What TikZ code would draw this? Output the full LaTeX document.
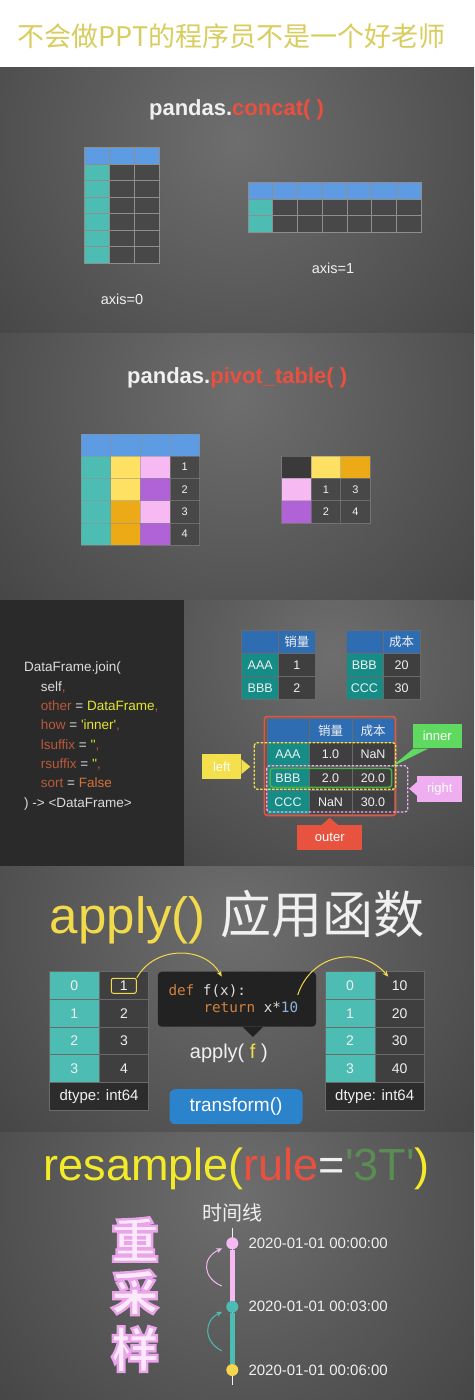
\documentclass[tikz,border=0pt]{standalone}
\usepackage{fontspec}
\setmainfont{Liberation Sans}
\newfontfamily\cjk{Noto Sans CJK SC}
\newfontfamily\codemono{DejaVu Sans Mono}
\definecolor{titlegold}{HTML}{D8CD5E}
\definecolor{bgdark}{HTML}{2C2C2C}
\definecolor{bglight}{HTML}{6E6E6E}
\definecolor{paneldark}{HTML}{2A2A2A}
\definecolor{headblue}{HTML}{5D9BE3}
\definecolor{rowteal}{HTML}{4DBDB3}
\definecolor{cellgrey}{HTML}{484848}
\definecolor{cornergrey}{HTML}{3A3A3A}
\definecolor{gridgrey}{HTML}{8E8E8E}
\definecolor{hotred}{HTML}{E9503F}
\definecolor{pivyellow}{HTML}{FEE062}
\definecolor{pivorange}{HTML}{ECAA17}
\definecolor{pivpink}{HTML}{F6B9F2}
\definecolor{pivpurple}{HTML}{AF63D6}
\definecolor{kwbrown}{HTML}{B9593B}
\definecolor{valyellow}{HTML}{E5E532}
\definecolor{falseorange}{HTML}{D2733A}
\definecolor{codewhite}{HTML}{DCDCDC}
\definecolor{joinblue}{HTML}{2F6DB3}
\definecolor{jointeal}{HTML}{168C86}
\definecolor{joingrey}{HTML}{3F3F3F}
\definecolor{joingrid}{HTML}{6A6A6A}
\definecolor{outerred}{HTML}{E8533F}
\definecolor{leftyellow}{HTML}{F4E04C}
\definecolor{rightpink}{HTML}{EEAEF0}
\definecolor{innergreen}{HTML}{5FD95F}
\definecolor{applyyellow}{HTML}{F2DA4B}
\definecolor{codebg}{HTML}{222222}
\definecolor{codeorange}{HTML}{D0813F}
\definecolor{codeblue}{HTML}{8DB3DC}
\definecolor{btnblue}{HTML}{2B83CB}
\definecolor{resyellow}{HTML}{F3EA28}
\definecolor{resgreen}{HTML}{5A8C53}
\definecolor{respink}{HTML}{E9A4EA}
\definecolor{reswhite}{HTML}{FCEAFC}
\definecolor{dotyellow}{HTML}{F6D64C}
\definecolor{textwhite}{HTML}{F0F0F0}
\usetikzlibrary{arrows.meta, positioning, calc}
\tikzstyle{gridln} = [draw=gridgrey, line width=0.6pt]
\tikzstyle{cell} = [rectangle, inner sep=0pt, text=textwhite]
\tikzstyle{curvearrow} = [-{Stealth[length=6pt, width=5pt]}, line width=1pt]
% pink stroke round the big characters
\newcommand{\pinkoutline}[1]{\special{pdf:literal direct 2 Tr 2.4 w 0.914 0.643 0.918 RG}#1\special{pdf:literal direct 0 Tr}}

\begin{document}
\begin{tikzpicture}[x=1pt, y=-1pt,
    headline/.style={font=\fontsize{22}{26}\selectfont\bfseries, text=textwhite},
    axlabel/.style={font=\fontsize{14.5}{17}\selectfont, text=textwhite},
    pnum/.style={font=\fontsize{11}{13}\selectfont, text=textwhite},
    codeline/.style={anchor=base west, inner sep=0pt, font=\fontsize{13.5}{16}\selectfont, text=codewhite},
    jcell/.style={cell, draw=joingrid, line width=0.5pt, minimum width=37pt, minimum height=23pt, font=\fontsize{12.5}{15}\selectfont},
    jhead/.style={jcell, fill=joinblue},
    jkey/.style={jcell, fill=jointeal},
    jval/.style={jcell, fill=joingrey},
    jwide/.style={minimum width=42.5pt, minimum height=24pt},
    callbox/.style={cell, minimum height=25pt, font=\fontsize{13}{15}\selectfont, text=white},
    scell/.style={cell, draw=joingrid, line width=0.6pt, minimum width=50pt, minimum height=27.7pt, font=\fontsize{14}{16}\selectfont},
    skey/.style={scell, fill=rowteal},
    sval/.style={scell, fill=joingrey},
    sfoot/.style={scell, fill=bgdark, minimum width=99.4pt, minimum height=28.4pt, font=\fontsize{15}{17}\selectfont},
    bigchar/.style={font=\cjk\bfseries\fontsize{48}{52}\selectfont, text=reswhite},
    tdot/.style={circle, inner sep=0pt, minimum size=12pt},
    timelbl/.style={anchor=west, inner sep=0pt, font=\fontsize{15}{17}\selectfont, text=textwhite}
  ]
  \useasboundingbox (0,0) rectangle (474,1400);

  % Banner
  \fill[white] (0,0) rectangle (474,67);
  \node[font=\cjk\fontsize{27}{30}\selectfont, text=titlegold] (banner) at (231.5,36) {不会做PPT的程序员不是一个好老师};

  % Panel 1: concat
  \begin{scope}
    \clip (0,67) rectangle (474,333);
    \fill[bgdark] (0,67) rectangle (474,333);
    \shade[inner color=bglight, outer color=bgdark] (237,140) circle (520pt);
  \end{scope}
  \node[headline] (concat) at (236.5,110) {pandas.\textcolor{hotred}{concat( )}};

  \fill[headblue] (84,147) rectangle (159,164);
  \fill[rowteal] (84,164) rectangle (109,263);
  \fill[cellgrey] (109,164) rectangle (159,263);
  \foreach \gx in {109,134}
    \draw[gridln] (\gx,147) -- (\gx,263);
  \foreach \gy in {164,180.5,197,213.5,230,246.5}
    \draw[gridln] (84,\gy) -- (159,\gy);
  \draw[gridln] (84,147) rectangle (159,263);
  \node[axlabel] (axis0) at (122,299) {axis=0};

  \fill[headblue] (248,182) rectangle (421,199);
  \fill[rowteal] (248,199) rectangle (272.7,232);
  \fill[cellgrey] (272.7,199) rectangle (421,232);
  \foreach \gx in {272.7,297.4,322.1,346.9,371.6,396.3}
    \draw[gridln] (\gx,182) -- (\gx,232);
  \foreach \gy in {199,215.5}
    \draw[gridln] (248,\gy) -- (421,\gy);
  \draw[gridln] (248,182) rectangle (421,232);
  \node[axlabel] (axis1) at (333,268) {axis=1};

  % Panel 2: pivot_table
  \begin{scope}
    \clip (0,333) rectangle (474,600);
    \fill[bgdark] (0,333) rectangle (474,600);
    \shade[inner color=bglight, outer color=bgdark] (237,395) circle (520pt);
  \end{scope}
  \node[headline] (pivot) at (237.2,378) {pandas.\textcolor{hotred}{pivot\_table( )}};

  \fill[headblue] (81,434) rectangle (199.7,456);
  \fill[rowteal] (81,456) rectangle (110.7,545);
  \fill[pivyellow] (110.7,456) rectangle (140.3,500.7);
  \fill[pivorange] (110.7,500.7) rectangle (140.3,545);
  \fill[pivpink] (140.3,456) rectangle (170,478.3);
  \fill[pivpurple] (140.3,478.3) rectangle (170,500.7);
  \fill[pivpink] (140.3,500.7) rectangle (170,523);
  \fill[pivpurple] (140.3,523) rectangle (170,545);
  \fill[cellgrey] (170,456) rectangle (199.7,545);
  \foreach \gx in {110.7,140.3,170}
    \draw[gridln, draw opacity=0.5] (\gx,434) -- (\gx,545);
  \foreach \gy in {456,478.3,500.7,523}
    \draw[gridln, draw opacity=0.5] (81,\gy) -- (199.7,\gy);
  \draw[gridln, draw opacity=0.5] (81,434) rectangle (199.7,545);
  \node[pnum] (n1) at (184.8,467.2) {1};
  \node[pnum] (n2) at (184.8,489.5) {2};
  \node[pnum] (n3) at (184.8,511.8) {3};
  \node[pnum] (n4) at (184.8,534) {4};

  \fill[cornergrey] (281.7,456) rectangle (311.3,478.3);
  \fill[pivyellow] (311.3,456) rectangle (340.7,478.3);
  \fill[pivorange] (340.7,456) rectangle (370.3,478.3);
  \fill[pivpink] (281.7,478.3) rectangle (311.3,500.7);
  \fill[pivpurple] (281.7,500.7) rectangle (311.3,523);
  \fill[cellgrey] (311.3,478.3) rectangle (370.3,523);
  \foreach \gx in {311.3,340.7}
    \draw[gridln, draw opacity=0.5] (\gx,456) -- (\gx,523);
  \foreach \gy in {478.3,500.7}
    \draw[gridln, draw opacity=0.5] (281.7,\gy) -- (370.3,\gy);
  \draw[gridln, draw opacity=0.5] (281.7,456) rectangle (370.3,523);
  \node[pnum] (m1) at (326,489.5) {1};
  \node[pnum] (m3) at (355.5,489.5) {3};
  \node[pnum] (m2) at (326,511.8) {2};
  \node[pnum] (m4) at (355.5,511.8) {4};

  % Panel 3: join signature and tables
  \fill[paneldark] (0,600) rectangle (184,866);
  \node[codeline] (c1) at (24,671.7) {DataFrame.join(};
  \node[codeline] (c2) at (40.7,691) {self\textcolor{kwbrown}{,}};
  \node[codeline] (c3) at (40.7,710.3) {\textcolor{kwbrown}{other} = \textcolor{valyellow}{DataFrame}\textcolor{kwbrown}{,}};
  \node[codeline] (c4) at (40.7,729.7) {\textcolor{kwbrown}{how} = \textcolor{valyellow}{\textquotesingle inner\textquotesingle}\textcolor{kwbrown}{,}};
  \node[codeline] (c5) at (40.7,749) {\textcolor{kwbrown}{lsuffix} = \textcolor{valyellow}{\textquotesingle\textquotesingle}\textcolor{kwbrown}{,}};
  \node[codeline] (c6) at (40.7,768.3) {\textcolor{kwbrown}{rsuffix} = \textcolor{valyellow}{\textquotesingle\textquotesingle}\textcolor{kwbrown}{,}};
  \node[codeline] (c7) at (40.7,787.7) {\textcolor{kwbrown}{sort} = \textcolor{falseorange}{False}};
  \node[codeline] (c8) at (24,807) {) -> <DataFrame>};

  \begin{scope}
    \clip (184,600) rectangle (474,866);
    \fill[bgdark] (184,600) rectangle (474,866);
    \shade[inner color=bglight, outer color=bgdark] (330,655) circle (440pt);
  \end{scope}

  % sales table
  \node[jhead] (s00) at (260.2,642) {};
  \node[jhead] (s01) at (296.9,642) {\cjk 销量};
  \node[jkey] (s10) at (260.2,665) {AAA};
  \node[jval] (s11) at (296.9,665) {1};
  \node[jkey] (s20) at (260.2,688) {BBB};
  \node[jval] (s21) at (296.9,688) {2};
  % cost table
  \node[jhead] (k00) at (364.3,642) {};
  \node[jhead] (k01) at (401.5,642) {\cjk 成本};
  \node[jkey] (k10) at (364.3,665) {BBB};
  \node[jval] (k11) at (401.5,665) {20};
  \node[jkey] (k20) at (364.3,688) {CCC};
  \node[jval] (k21) at (401.5,688) {30};

  % joined table
  \node[jhead, jwide] (j00) at (288,730.3) {};
  \node[jhead, jwide] (j01) at (330.5,730.3) {\cjk 销量};
  \node[jhead, jwide] (j02) at (373,730.3) {\cjk 成本};
  \node[jkey, jwide] (j10) at (288,754.3) {AAA};
  \node[jval, jwide] (j11) at (330.5,754.3) {1.0};
  \node[jval, jwide] (j12) at (373,754.3) {NaN};
  \node[jkey, jwide] (j20) at (288,778.3) {BBB};
  \node[jval, jwide] (j21) at (330.5,778.3) {2.0};
  \node[jval, jwide] (j22) at (373,778.3) {20.0};
  \node[jkey, jwide] (j30) at (288,802.3) {CCC};
  \node[jval, jwide] (j31) at (330.5,802.3) {NaN};
  \node[jval, jwide] (j32) at (373,802.3) {30.0};

  % join outlines
  \draw[outerred, line width=1.5pt, rounded corners=3pt] (264.3,716.5) rectangle (395.7,815.5);
  \draw[rightpink, line width=1.3pt, rounded corners=3pt, dash pattern=on 2.5pt off 1.5pt] (266.7,765.7) rectangle (407.7,812);
  \draw[leftyellow, line width=1.3pt, rounded corners=3pt, dash pattern=on 2.5pt off 1.5pt] (254.3,742.7) rectangle (395.7,789.3);
  \draw[innergreen!80!black, line width=1.5pt, rounded corners=3pt] (270,768.3) rectangle (391.7,787.3);

  % callouts
  \node[callbox, fill=leftyellow, minimum width=38.7pt] (leftcall) at (221.7,766.7) {left};
  \fill[leftyellow] ($(leftcall.east)+(0,-7.5)$) -- ($(leftcall.east)+(9,0)$) -- ($(leftcall.east)+(0,7.5)$) -- cycle;
  \node[callbox, fill=innergreen, minimum width=49pt, minimum height=24pt] (innercall) at (437.2,736.3) {inner};
  \fill[innergreen] ($(innercall.south west)+(1,0)$) -- ($(innercall.south west)+(-21,18.4)$) -- ($(innercall.south west)+(16,0)$) -- cycle;
  \node[callbox, fill=rightpink, minimum width=45pt, minimum height=25.7pt] (rightcall) at (439.8,788.8) {right};
  \fill[rightpink] ($(rightcall.west)+(0,-7)$) -- ($(rightcall.west)+(-8,0)$) -- ($(rightcall.west)+(0,7)$) -- cycle;
  \node[callbox, fill=outerred, minimum width=65pt] (outercall) at (329.8,837.5) {outer};
  \fill[outerred] ($(outercall.north)+(-8,0)$) -- ($(outercall.north)+(0,-7)$) -- ($(outercall.north)+(8,0)$) -- cycle;

  % Panel 4: apply
  \begin{scope}
    \clip (0,866) rectangle (474,1132);
    \fill[bgdark] (0,866) rectangle (474,1132);
    \shade[inner color=bglight, outer color=bgdark] (237,925) circle (520pt);
  \end{scope}
  \node[font=\fontsize{51}{56}\selectfont] (applyhead) at (237,917) {\textcolor{applyyellow}{apply()} \textcolor{textwhite}{\cjk 应用函数}};

  % input series
  \node[skey] (a0) at (74.3,985.5) {0};
  \node[sval, minimum width=49.4pt] (av0) at (124,985.5) {};
  \node[skey] (a1) at (74.3,1013.2) {1};
  \node[sval, minimum width=49.4pt] (av1) at (124,1013.2) {2};
  \node[skey] (a2) at (74.3,1040.8) {2};
  \node[sval, minimum width=49.4pt] (av2) at (124,1040.8) {3};
  \node[skey] (a3) at (74.3,1068.5) {3};
  \node[sval, minimum width=49.4pt] (av3) at (124,1068.5) {4};
  \node[sfoot] (adtype) at (99,1096.5) {dtype: int64};
  \node[cell, draw=applyyellow, line width=1pt, rounded corners=2pt, minimum width=25pt, minimum height=15pt, font=\fontsize{14}{16}\selectfont] (hl1) at (123.8,985.8) {1};

  % output series
  \node[skey] (b0) at (350,985.5) {0};
  \node[sval, minimum width=49.3pt] (bv0) at (399.7,985.5) {10};
  \node[skey] (b1) at (350,1013.2) {1};
  \node[sval, minimum width=49.3pt] (bv1) at (399.7,1013.2) {20};
  \node[skey] (b2) at (350,1040.8) {2};
  \node[sval, minimum width=49.3pt] (bv2) at (399.7,1040.8) {30};
  \node[skey] (b3) at (350,1068.5) {3};
  \node[sval, minimum width=49.3pt] (bv3) at (399.7,1068.5) {40};
  \node[sfoot, minimum width=99.3pt] (bdtype) at (374.7,1096.5) {dtype: int64};

  % function box
  \node[rectangle, rounded corners=4pt, fill=codebg, minimum width=158.3pt, minimum height=55pt] (fbox) at (236.9,999.2) {};
  \fill[codebg] ($(fbox.south)+(6,0)$) -- ($(fbox.south)+(16,10)$) -- ($(fbox.south)+(26,0)$) -- cycle;
  \node[anchor=west, inner sep=0pt, font=\codemono\fontsize{14.3}{16}\selectfont, text=codewhite] (fdef) at (168.3,991) {\textcolor{codeorange}{def} f(x):};
  \node[anchor=west, inner sep=0pt, font=\codemono\fontsize{14.3}{16}\selectfont, text=codewhite] (fret) at (203.3,1007.3) {\textcolor{codeorange}{return} x*\textcolor{codeblue}{10}};

  \coordinate (tipA) at (221.7,976.7);
  \coordinate (srcB) at (297.7,995);
  \coordinate (tipB) at (388.3,976.7);
  \draw[curvearrow, applyyellow] (hl1.north east) .. controls (155,945) and (205,946) .. (tipA);
  \draw[curvearrow, applyyellow] (srcB) .. controls (312,952) and (362,946) .. (tipB);

  \node[font=\fontsize{20}{24}\selectfont, text=textwhite] (applycall) at (228.8,1053.3) {apply( \textcolor{applyyellow}{f} )};
  \node[rectangle, rounded corners=6pt, fill=btnblue, minimum width=133pt, minimum height=35pt, text=white, font=\fontsize{19}{22}\selectfont] (transform) at (236,1106.7) {transform()};

  % Panel 5: resample
  \begin{scope}
    \clip (0,1132) rectangle (474,1400);
    \fill[bgdark] (0,1132) rectangle (474,1400);
    \shade[inner color=bglight, outer color=bgdark] (237,1195) circle (520pt);
  \end{scope}
  \node[font=\fontsize{45}{50}\selectfont] (resample) at (236.7,1169) {\textcolor{resyellow}{resample(}\textcolor{hotred}{rule}\textcolor{textwhite}{=}\textcolor{resgreen}{\textquotesingle 3T\textquotesingle}\textcolor{resyellow}{)}};

  \node[bigchar] (zhong) at (135,1239.5) {\pinkoutline{重}};
  \node[bigchar] (cai) at (135,1292.5) {\pinkoutline{采}};
  \node[bigchar] (yang) at (135,1349) {\pinkoutline{样}};

  \node[font=\cjk\fontsize{20}{22}\selectfont, text=textwhite] (timeline) at (232.5,1213.3) {时间线};
  \coordinate (ttop) at (232.3,1228.3);
  \coordinate (tbot) at (232.3,1385);
  \draw[line width=1.2pt, textwhite!80] (ttop) -- (tbot);
  \node[tdot, fill=pivpink] (d1) at (232.3,1243.3) {};
  \node[tdot, fill=rowteal] (d2) at (232.3,1306.7) {};
  \node[tdot, fill=dotyellow] (d3) at (232.3,1370) {};
  \draw[line width=5pt, pivpink] (d1) -- (d2);
  \draw[line width=5pt, rowteal] (d2) -- (d3);
  \node[timelbl] (t1) at (248.3,1243.3) {2020-01-01 00:00:00};
  \node[timelbl] (t2) at (248.3,1306.7) {2020-01-01 00:03:00};
  \node[timelbl] (t3) at (248.3,1370) {2020-01-01 00:06:00};

  \coordinate (pa0) at (221.7,1286);
  \coordinate (pa1) at (222.3,1248.3);
  \draw[curvearrow, pivpink] (pa0) .. controls (203,1278) and (201,1258) .. (pa1);
  \coordinate (ta0) at (221.7,1350.7);
  \coordinate (ta1) at (222.3,1311.7);
  \draw[curvearrow, rowteal] (ta0) .. controls (204,1342) and (203,1321) .. (ta1);
\end{tikzpicture}
\end{document}
